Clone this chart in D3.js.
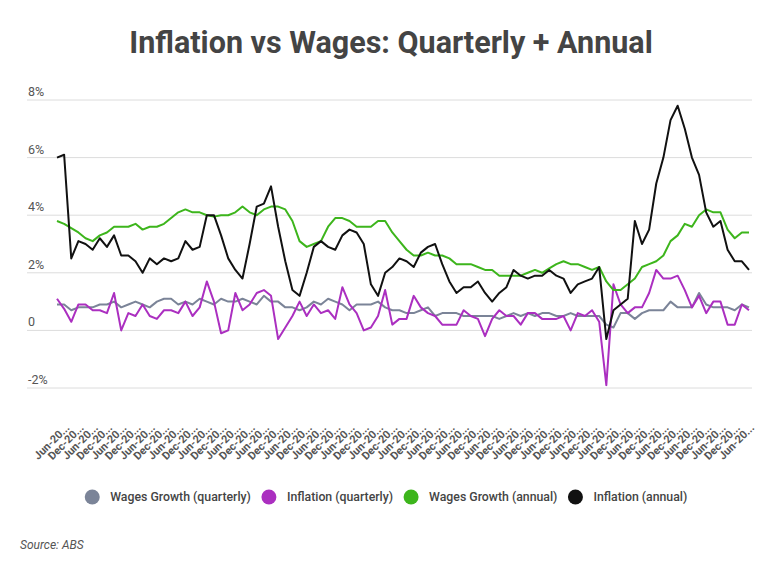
<!DOCTYPE html>
<html>
<head>
<meta charset="utf-8">
<script src="https://cdn.jsdelivr.net/npm/d3@7"></script>
<style>
  body { margin: 0; background: #fff; }
  svg { font-family: Roboto, "Open Sans", sans-serif; }
</style>
</head>
<body>
<svg id="chart" width="768" height="566"></svg>
<script>
// quarterly periods, Mar-2001 .. Jun-2025
const quarters = [
  "Mar-2001","Jun-2001","Sep-2001","Dec-2001","Mar-2002","Jun-2002","Sep-2002","Dec-2002",
  "Mar-2003","Jun-2003","Sep-2003","Dec-2003","Mar-2004","Jun-2004","Sep-2004","Dec-2004",
  "Mar-2005","Jun-2005","Sep-2005","Dec-2005","Mar-2006","Jun-2006","Sep-2006","Dec-2006",
  "Mar-2007","Jun-2007","Sep-2007","Dec-2007","Mar-2008","Jun-2008","Sep-2008","Dec-2008",
  "Mar-2009","Jun-2009","Sep-2009","Dec-2009","Mar-2010","Jun-2010","Sep-2010","Dec-2010",
  "Mar-2011","Jun-2011","Sep-2011","Dec-2011","Mar-2012","Jun-2012","Sep-2012","Dec-2012",
  "Mar-2013","Jun-2013","Sep-2013","Dec-2013","Mar-2014","Jun-2014","Sep-2014","Dec-2014",
  "Mar-2015","Jun-2015","Sep-2015","Dec-2015","Mar-2016","Jun-2016","Sep-2016","Dec-2016",
  "Mar-2017","Jun-2017","Sep-2017","Dec-2017","Mar-2018","Jun-2018","Sep-2018","Dec-2018",
  "Mar-2019","Jun-2019","Sep-2019","Dec-2019","Mar-2020","Jun-2020","Sep-2020","Dec-2020",
  "Mar-2021","Jun-2021","Sep-2021","Dec-2021","Mar-2022","Jun-2022","Sep-2022","Dec-2022",
  "Mar-2023","Jun-2023","Sep-2023","Dec-2023","Mar-2024","Jun-2024","Sep-2024","Dec-2024",
  "Mar-2025","Jun-2025"
];

const wagesQuarterly = [
  0.9, 0.9, 0.7, 0.8, 0.8, 0.8, 0.9, 0.9, 1.0, 0.8, 0.9, 1.0, 0.9, 0.8, 1.0, 1.1,
  1.1, 0.9, 1.0, 0.9, 1.1, 1.0, 0.9, 1.1, 1.0, 1.0, 1.1, 1.0, 0.9, 1.2, 1.0, 1.0,
  0.8, 0.8, 0.7, 0.8, 1.0, 0.9, 1.1, 1.0, 0.9, 0.7, 0.9, 0.9, 0.9, 1.0, 0.8, 0.7,
  0.7, 0.6, 0.6, 0.7, 0.8, 0.5, 0.6, 0.6, 0.6, 0.5, 0.5, 0.5, 0.5, 0.5, 0.4, 0.5,
  0.6, 0.5, 0.6, 0.5, 0.6, 0.6, 0.5, 0.5, 0.6, 0.5, 0.5, 0.5, 0.5, 0.2, 0.1, 0.6,
  0.6, 0.4, 0.6, 0.7, 0.7, 0.7, 1.0, 0.8, 0.8, 0.8, 1.3, 0.9, 0.8, 0.8, 0.8, 0.7,
  0.9, 0.8
];

const inflationQuarterly = [
  1.1, 0.75, 0.3, 0.9, 0.9, 0.7, 0.7, 0.6, 1.3, 0.0, 0.6, 0.5, 0.9, 0.5, 0.4, 0.7,
  0.7, 0.6, 1.0, 0.5, 0.8, 1.7, 1.0, -0.1, 0.0, 1.3, 0.7, 0.9, 1.3, 1.4, 1.2, -0.3,
  0.1, 0.5, 1.0, 0.5, 0.9, 0.6, 0.7, 0.4, 1.5, 0.9, 0.6, 0.0, 0.1, 0.5, 1.4, 0.2,
  0.4, 0.4, 1.2, 0.8, 0.6, 0.5, 0.2, 0.2, 0.2, 0.7, 0.5, 0.4, -0.2, 0.4, 0.7, 0.5,
  0.5, 0.2, 0.6, 0.6, 0.4, 0.4, 0.4, 0.5, 0.0, 0.6, 0.5, 0.7, 0.3, -1.9, 1.6, 0.9,
  0.6, 0.8, 0.8, 1.3, 2.1, 1.8, 1.8, 1.9, 1.4, 0.8, 1.2, 0.6, 1.0, 1.0, 0.2, 0.2,
  0.9, 0.7
];

const wagesAnnual = [
  3.8, 3.7, 3.55, 3.4, 3.2, 3.1, 3.3, 3.4, 3.6, 3.6, 3.6, 3.7, 3.5, 3.6, 3.6, 3.7,
  3.9, 4.1, 4.2, 4.1, 4.1, 4.0, 3.95, 4.0, 4.0, 4.1, 4.3, 4.1, 4.0, 4.2, 4.3, 4.3,
  4.2, 3.8, 3.1, 2.9, 3.0, 3.1, 3.6, 3.9, 3.9, 3.8, 3.6, 3.6, 3.6, 3.8, 3.8, 3.4,
  3.1, 2.8, 2.6, 2.6, 2.7, 2.6, 2.6, 2.5, 2.3, 2.3, 2.3, 2.2, 2.1, 2.1, 1.9, 1.9,
  1.9, 1.9, 2.0, 2.1, 2.0, 2.15, 2.3, 2.4, 2.3, 2.3, 2.2, 2.1, 2.2, 1.7, 1.4, 1.4,
  1.6, 1.8, 2.2, 2.3, 2.4, 2.6, 3.1, 3.3, 3.7, 3.6, 4.0, 4.2, 4.1, 4.1, 3.5, 3.2,
  3.4, 3.4
];

const inflationAnnual = [
  6.0, 6.1, 2.5, 3.1, 3.0, 2.8, 3.2, 2.9, 3.3, 2.6, 2.6, 2.4, 2.0, 2.5, 2.3, 2.5,
  2.4, 2.5, 3.1, 2.8, 2.9, 4.0, 4.0, 3.3, 2.5, 2.1, 1.8, 3.0, 4.3, 4.4, 5.0, 3.6,
  2.4, 1.4, 1.2, 2.0, 2.9, 3.1, 2.9, 2.8, 3.3, 3.5, 3.4, 3.0, 1.6, 1.2, 2.0, 2.2,
  2.5, 2.4, 2.2, 2.7, 2.9, 3.0, 2.3, 1.7, 1.3, 1.5, 1.5, 1.7, 1.3, 1.0, 1.3, 1.5,
  2.1, 1.9, 1.8, 1.9, 1.9, 2.1, 1.9, 1.8, 1.3, 1.6, 1.7, 1.8, 2.2, -0.3, 0.7, 0.9,
  1.1, 3.8, 3.0, 3.5, 5.1, 6.0, 7.3, 7.8, 7.0, 6.0, 5.4, 4.1, 3.6, 3.8, 2.8, 2.4,
  2.4, 2.1
];

const yTicks = [-2, 0, 2, 4, 6, 8];
const seriesNames = ["Wages Growth (quarterly)", "Inflation (quarterly)", "Wages Growth (annual)", "Inflation (annual)"];
const seriesColors = ["#7b8498", "#ab2fc0", "#3db51c", "#111111"];

const width = 768, height = 566;
const svg = d3.select("#chart");

svg.append("text")
  .attr("x", width / 2 + 7)
  .attr("y", 53)
  .attr("text-anchor", "middle")
  .attr("font-size", 30.5)
  .attr("font-weight", 700)
  .attr("fill", "#444")
  .text("Inflation vs Wages: Quarterly + Annual");

let x = d3.scalePoint().domain(quarters).range([57, 749]);
let y = d3.scaleLinear().domain([-2, 8]).range([388, 100]);

// gridlines + y labels
let grid = svg.append("g");
grid.selectAll("line").data(yTicks).join("line")
  .attr("x1", 27).attr("x2", 752)
  .attr("y1", d => y(d)).attr("y2", d => y(d))
  .attr("stroke", "#dcdcdc").attr("stroke-width", 1);
grid.selectAll("text").data(yTicks).join("text")
  .attr("x", 28).attr("y", d => y(d) - 4)
  .attr("font-size", 12.5).attr("fill", "#555")
  .text(d => d === 0 ? "0" : d + "%");

// x axis, Jun and Dec labels only
let xAxis = d3.axisBottom(x)
  .tickValues(quarters.filter(q => q.startsWith("Jun") || q.startsWith("Dec")))
  .tickSize(0)
  .tickFormat(q => q.slice(0, 6) + "...");

let gx = svg.append("g").attr("transform", "translate(0,420)").call(xAxis);
gx.select(".domain").remove();
gx.selectAll("text")
  .attr("font-family", "Roboto, sans-serif")
  .attr("font-size", 11)
  .attr("font-weight", 700)
  .attr("fill", "#555")
  .attr("x", -2).attr("y", 6).attr("dy", "0.35em")
  .attr("transform", "rotate(-45)")
  .style("text-anchor", "end");

// lines
let allSeries = [wagesQuarterly, inflationQuarterly, wagesAnnual, inflationAnnual];
let line = d3.line().x((d, i) => x(quarters[i])).y(d => y(d));
svg.append("g").selectAll("path").data(allSeries).join("path")
  .attr("d", d => line(d))
  .attr("fill", "none")
  .attr("stroke", (d, i) => seriesColors[i])
  .attr("stroke-width", 2)
  .attr("stroke-linejoin", "round");

// legend
let legend = svg.append("g").attr("transform", "translate(0,497)");
let items = legend.selectAll("g").data(seriesNames).join("g");
items.append("circle").attr("r", 7.5).attr("fill", (d, i) => seriesColors[i]);
items.append("text")
  .attr("x", 18).attr("dy", "0.35em")
  .attr("font-size", 12.3).attr("font-weight", 500).attr("fill", "#444")
  .text(d => d);
let xpos = 0;
let offsets = [];
items.each(function () {
  offsets.push(xpos);
  let w = d3.select(this).select("text").node().getComputedTextLength();
  xpos += 18 + w + 18;
});
let total = xpos - 18 + 7.5;
let start = 386 - total / 2 + 7.5;
items.attr("transform", (d, i) => `translate(${start + offsets[i]},0)`);

svg.append("text")
  .attr("x", 20).attr("y", 549)
  .attr("font-size", 12).attr("font-style", "italic").attr("fill", "#555")
  .text("Source: ABS");
</script>
</body>
</html>
